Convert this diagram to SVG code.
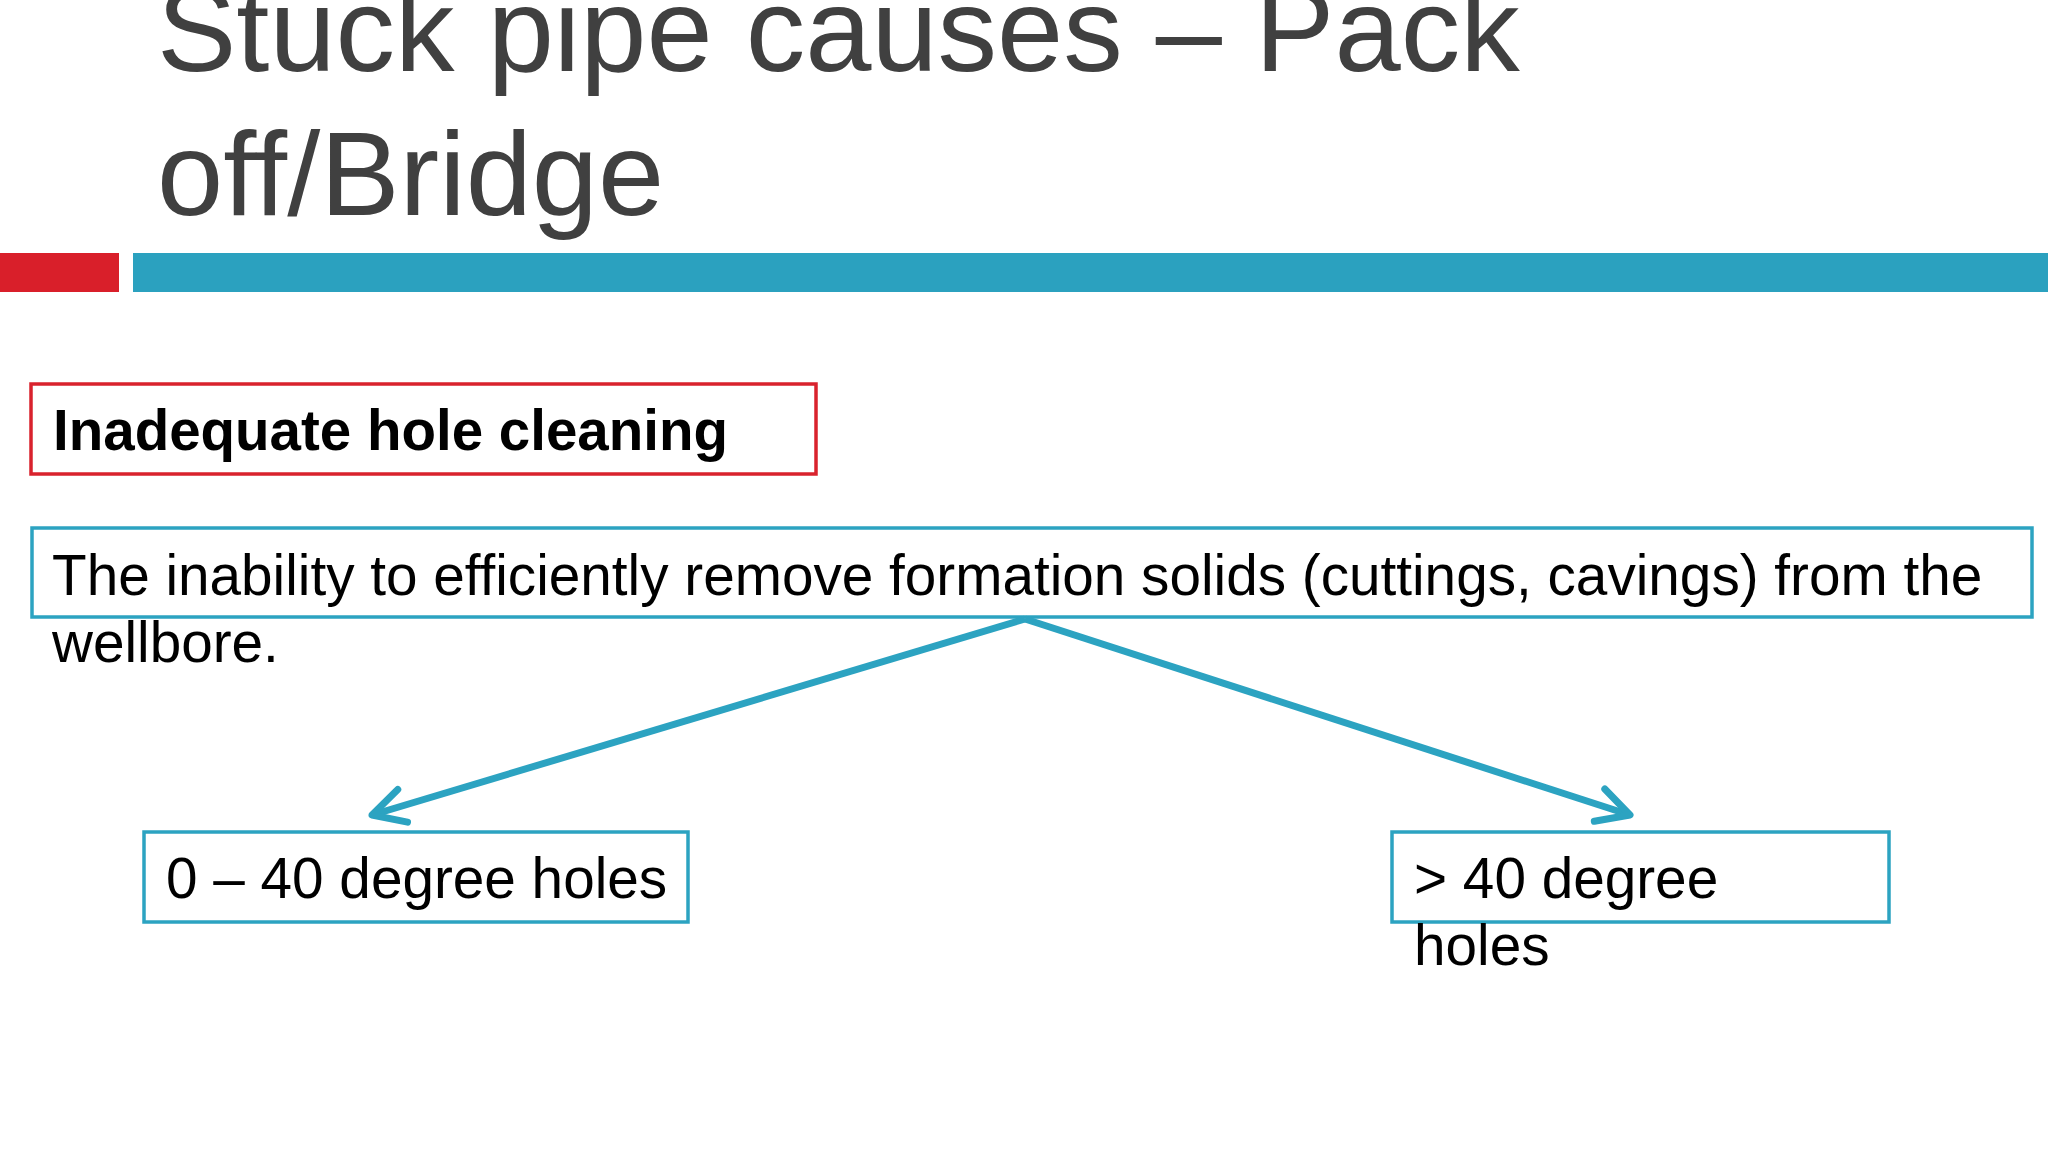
<svg xmlns="http://www.w3.org/2000/svg" width="2048" height="1152" viewBox="0 0 2048 1152">
  <style>
    .title { font-family: "Liberation Sans", Arial, sans-serif; font-size: 119px; fill: #404040; }
    .head { font-family: "Liberation Sans", Arial, sans-serif; font-size: 56.5px; font-weight: bold; fill: #000000; }
    .body { font-family: "Liberation Sans", Arial, sans-serif; font-size: 56.7px; fill: #000000; }
    .tbox { fill: #ffffff; stroke: #2ca3c1; stroke-width: 3.5; }
    .rbox { fill: #ffffff; stroke: #d9222d; stroke-width: 3.5; }
    .conn { stroke: #2ca3c1; stroke-width: 7; fill: none; }
  </style>
  <defs>
    <marker id="chev" markerUnits="userSpaceOnUse" markerWidth="80" markerHeight="80" viewBox="-40 -40 80 80" refX="0" refY="0" orient="auto">
      <path d="M -32 -17 L 0 0 L -32 17" fill="none" stroke="#2ca3c1" stroke-width="7" stroke-linecap="round" stroke-linejoin="round"/>
    </marker>
  </defs>
  <rect width="2048" height="1152" fill="#ffffff"/>

  <g id="title">
    <text class="title" x="157" y="71">Stuck pipe causes – Pack</text>
    <text class="title" x="157" y="215">off/Bridge</text>
  </g>

  <g id="header-bars">
    <rect x="0" y="253" width="119" height="39" fill="#d91f2a"/>
    <rect x="133" y="253" width="1915" height="39" fill="#2ba1bf"/>
  </g>

  <g id="node-heading">
    <rect class="rbox" x="31" y="384" width="785" height="90"/>
    <text class="head" x="53" y="450">Inadequate hole cleaning</text>
  </g>

  <g id="node-definition">
    <rect class="tbox" x="32" y="528" width="2000" height="89"/>
    <text class="body" x="52" y="595">The inability to efficiently remove formation solids (cuttings, cavings) from the</text>
    <text class="body" x="52" y="662">wellbore.</text>
  </g>

  <g id="connectors">
    <line class="conn" x1="1025" y1="619" x2="372" y2="815" marker-end="url(#chev)"/>
    <line class="conn" x1="1025" y1="619" x2="1630" y2="815" marker-end="url(#chev)"/>
  </g>

  <g id="node-low-angle">
    <rect class="tbox" x="144" y="832" width="544" height="90"/>
    <text class="body" x="166" y="898">0 – 40 degree holes</text>
  </g>

  <g id="node-high-angle">
    <rect class="tbox" x="1392" y="832" width="497" height="90"/>
    <text class="body" x="1414" y="898">&gt; 40 degree</text>
    <text class="body" x="1414" y="965">holes</text>
  </g>
</svg>
